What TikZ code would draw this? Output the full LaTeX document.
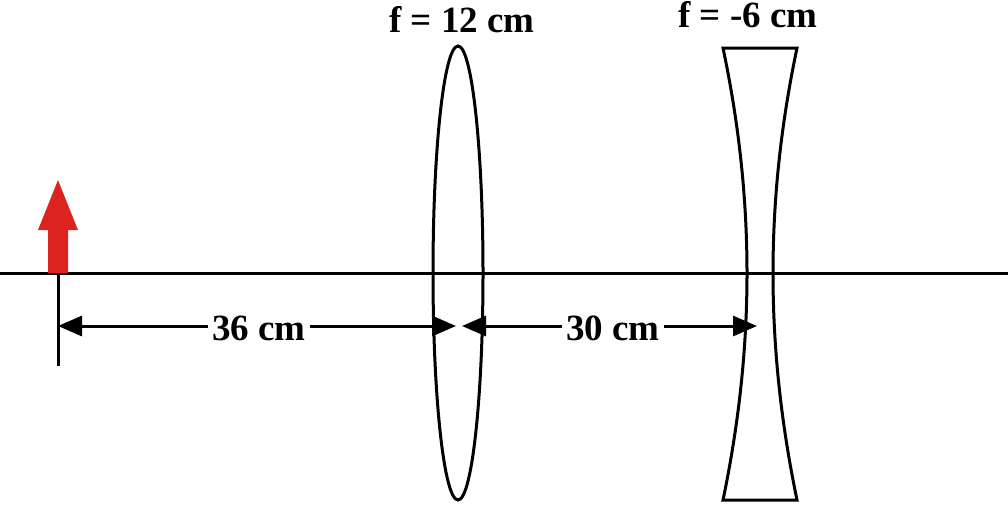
\documentclass[tikz,border=0pt]{standalone}
\usepackage{fontspec}
\setmainfont{Liberation Serif}
\usetikzlibrary{arrows.meta,shapes.geometric}
\definecolor{arrred}{RGB}{220,35,30}
\begin{document}
\begin{tikzpicture}[x=1pt,y=-1pt,
  lbl/.style={font=\fontsize{37}{42}\selectfont\bfseries, inner sep=1pt},
  dim/.style={line width=3pt, -{Triangle[length=24pt,width=20pt]}},
  lensline/.style={line width=3pt}]
\useasboundingbox (0,0) rectangle (1008,506);
% axis
\coordinate (axL) at (0,273);
\coordinate (axR) at (1008,273);
\draw[line width=3pt] (axL) -- (axR);
% object arrow
\fill[arrred] (48,273) -- (48,230) -- (38,230) -- (58,180) -- (78,230) -- (68,230) -- (68,273) -- cycle;
\coordinate (objB) at (58,273);
\coordinate (objE) at (58,366);
\draw[line width=3pt] (objB) -- (objE);
% convex lens
\node[lensline, draw, ellipse, minimum width=50pt, minimum height=454pt, inner sep=0pt] (cvx) at (458,273) {};
% concave lens
\draw[lensline] (723,48) -- (797,48) .. controls (765,200) and (765,346) .. (797,500) -- (723,500) .. controls (755,346) and (755,200) .. (723,48) -- cycle;
% labels
\node[lbl] (f1) at (462,20) {f = 12 cm};
\node[lbl] (f2) at (748,15) {f = -6 cm};
\node[lbl, fill=white, inner xsep=4pt] (d1) at (259,328) {36 cm};
\node[lbl, fill=white, inner xsep=4pt] (d2) at (613,328) {30 cm};
\coordinate (a0) at (58,326);
\coordinate (a1) at (456,326);
\coordinate (a2) at (462,326);
\coordinate (a3) at (757,326);
\draw[dim] (d1.west |- a0) -- (a0);
\draw[dim] (d1.east |- a0) -- (a1);
\draw[dim] (d2.west |- a0) -- (a2);
\draw[dim] (d2.east |- a0) -- (a3);
\end{tikzpicture}
\end{document}
